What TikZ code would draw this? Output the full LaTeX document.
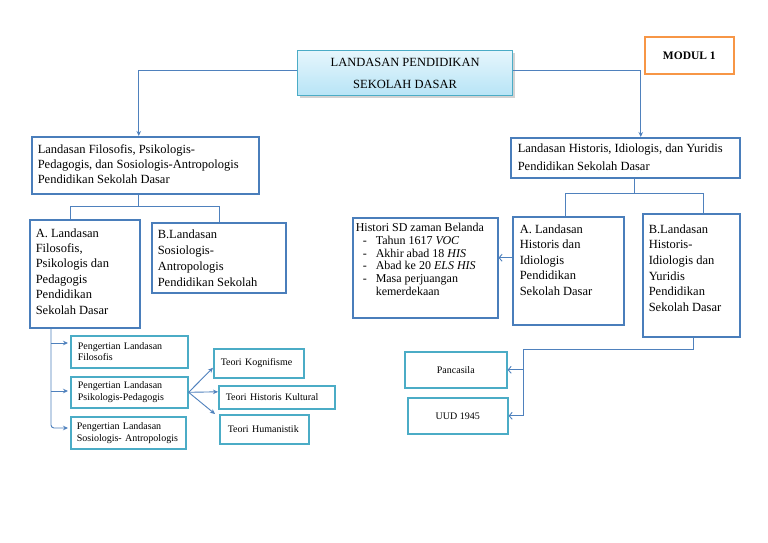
\documentclass[tikz,border=0pt]{standalone}
\usepackage{fontspec}
\setmainfont{Liberation Serif}
\usetikzlibrary{arrows.meta,shadows}
\definecolor{bblue}{HTML}{4A7EBB}
\definecolor{lblue}{HTML}{4F81BD}
\definecolor{tealb}{HTML}{4BACC6}
\definecolor{orng}{HTML}{F79646}
\definecolor{topA}{HTML}{E6F6FC}
\definecolor{topB}{HTML}{B7E4F6}
\newcommand\tb[5]{\parbox[c][#2][t]{#1}{\fontsize{#3}{#4}\selectfont\raggedright #5}}
\newcommand\itm{\hspace*{7pt}\makebox[13pt][l]{-}}
\tikzset{
  mainbox/.style={draw=bblue, line width=1.5pt, fill=white, anchor=north west},
  tbox/.style={draw=tealb, line width=1.6pt, fill=white, anchor=north west, align=left, inner ysep=0pt},
  cbox/.style={draw=tealb, line width=1.6pt, fill=white, anchor=north west, align=center, inner sep=0pt, font=\fontsize{10}{12}\selectfont},
  conn/.style={draw=lblue, line width=0.9pt},
  arr/.style={conn, -{Stealth[length=5pt,width=4.5pt]}},
  barb/.style={conn, -{Straight Barb[length=3pt,width=7pt]}}
}
\begin{document}
\begin{tikzpicture}[x=1pt,y=-1pt]
\useasboundingbox[fill=white] (0,0) rectangle (768,543);
% top
\node[draw=tealb, line width=1.2pt, top color=topA, bottom color=topB,
  drop shadow={shadow xshift=2pt, shadow yshift=-2pt, opacity=0.35},
  anchor=north west, minimum width=215pt, minimum height=45pt, inner sep=0pt,
  align=center, font=\fontsize{12.5}{22}\selectfont] (top) at (297,50) {LANDASAN PENDIDIKAN\\SEKOLAH DASAR};
\node[draw=orng, line width=1.6pt, fill=white, anchor=north west, minimum width=89pt,
  minimum height=37pt, inner sep=0pt, font=\fontsize{11.5}{14}\selectfont\bfseries] (mod) at (644,36) {MODUL 1};
% level 1
\node[mainbox, inner xsep=6pt, inner ysep=7.6pt] (L1) at (31,136)
  {\tb{215pt}{41.8pt}{12.5}{15}{Landasan Filosofis, Psikologis-\\Pedagogis, dan Sosiologis-Antropologis\\Pendidikan Sekolah Dasar}};
\node[mainbox, inner xsep=7pt, inner ysep=5.6pt] (R1) at (510,137)
  {\tb{215pt}{28.8pt}{12.5}{18}{Landasan Historis, Idiologis, dan Yuridis\\Pendidikan Sekolah Dasar}};
% level 2 left
\node[mainbox, inner xsep=6pt, inner ysep=8.6pt] (LA) at (29,219)
  {\tb{98pt}{90.8pt}{12.5}{15.4}{A. Landasan\\Filosofis,\\Psikologis dan\\Pedagogis\\Pendidikan\\Sekolah Dasar}};
\node[mainbox, inner xsep=6pt, inner ysep=6.6pt] (LB) at (151,222)
  {\tb{122pt}{56.8pt}{12.5}{16}{B.Landasan\\Sosiologis-\\Antropologis\\Pendidikan Sekolah}};
% level 2 right
\node[mainbox, inner xsep=3pt, inner ysep=5.8pt] (Hist) at (352,217)
  {\tb{139pt}{88.4pt}{12}{12.7}{Histori SD zaman Belanda\\\itm Tahun 1617 \textit{VOC}\\\itm Akhir abad 18 \textit{HIS}\\\itm Abad ke 20 \textit{ELS HIS}\\\itm Masa perjuangan\\\hspace*{20pt}kemerdekaan}};
\node[mainbox, inner xsep=7pt, inner ysep=7.6pt] (HA) at (512,216)
  {\tb{97pt}{92.8pt}{12.5}{15.5}{A. Landasan\\Historis dan\\Idiologis\\Pendidikan\\Sekolah Dasar}};
\node[mainbox, inner xsep=6pt, inner ysep=10.6pt] (HB) at (642,213)
  {\tb{85pt}{101.8pt}{12.5}{15.7}{B.Landasan\\Historis-\\Idiologis dan\\Yuridis\\Pendidikan\\Sekolah Dasar}};
% small boxes left
\node[tbox, minimum width=117pt, minimum height=32pt, inner xsep=7pt, text width=103pt, font=\fontsize{10}{11}\selectfont] (PF) at (70,335) {Pengertian Landasan\\Filosofis};
\node[tbox, minimum width=117pt, minimum height=31pt, inner xsep=7pt, text width=103pt, font=\fontsize{10}{12.5}\selectfont] (PP) at (70,376) {Pengertian Landasan\\Psikologis-Pedagogis};
\node[tbox, minimum width=115pt, minimum height=32pt, inner xsep=6pt, text width=103pt, font=\fontsize{10}{12}\selectfont] (PS) at (70,416) {Pengertian Landasan\\Sosiologis- Antropologis};
\node[tbox, minimum width=90pt, minimum height=29pt, inner xsep=7pt, text width=76pt, font=\fontsize{10}{12}\selectfont] (TK) at (213,348) {Teori Kognifisme};
\node[tbox, minimum width=116pt, minimum height=23pt, inner xsep=7pt, text width=102pt, font=\fontsize{10}{12}\selectfont] (TH) at (218,385) {Teori Historis Kultural};
\node[tbox, minimum width=89pt, minimum height=29pt, inner xsep=8pt, text width=73pt, font=\fontsize{10}{12}\selectfont] (THu) at (219,414) {Teori Humanistik};
% small boxes right
\node[cbox, minimum width=102pt, minimum height=36pt] (Panc) at (404,351) {Pancasila};
\node[cbox, minimum width=100pt, minimum height=36pt] (UUD) at (407,397) {UUD 1945};
% connectors
\draw[arr] ([yshift=2.5pt]top.west) -| ([xshift=-6.5pt]L1.north);
\draw[arr] ([yshift=2.5pt]top.east) -| ([xshift=15.5pt]R1.north);
\coordinate (j1l) at (70,206);
\coordinate (j1r) at (219,206);
\draw[conn] ([xshift=-6.5pt]L1.south) -- ([xshift=-6.5pt]L1.south |- j1l);
\draw[conn] (j1l |- LA.north) -- (j1l) -- (j1r) -- (j1r |- LB.north);
\coordinate (j2l) at (565,193);
\coordinate (j2r) at (703,193);
\draw[conn] ([xshift=9.5pt]R1.south) -- ([xshift=9.5pt]R1.south |- j2l);
\draw[conn] (j2l |- HA.north) -- (j2l) -- (j2r) -- (j2r |- HB.north);
\draw[barb] ([yshift=13pt]HA.west) -- ([yshift=13pt]HA.west -| Hist.east);
\coordinate (j3) at (523,349);
\draw[barb] ([xshift=2.5pt]HB.south) |- (j3) |- (UUD.east);
\draw[barb] (j3 |- Panc.east) -- (Panc.east);
\coordinate (a1) at (51,343);
\coordinate (a2) at (51,391);
\coordinate (a3) at (51,428);
\draw[arr, rounded corners=3pt, shorten >=2pt] (LA.south -| a1) |- (a3 -| PS.west);
\draw[arr, shorten >=2pt] (a1) -- (a1 -| PF.west);
\draw[arr, shorten >=2pt] (a2) -- (a2 -| PP.west);
\draw[arr] (PP.east) -- ([yshift=-4.5pt]TK.west);
\draw[arr] (PP.east) -- ([yshift=5.5pt]TH.west);
\draw[arr] (PP.east) -- ([xshift=-4pt]THu.north west);
\end{tikzpicture}
\end{document}
